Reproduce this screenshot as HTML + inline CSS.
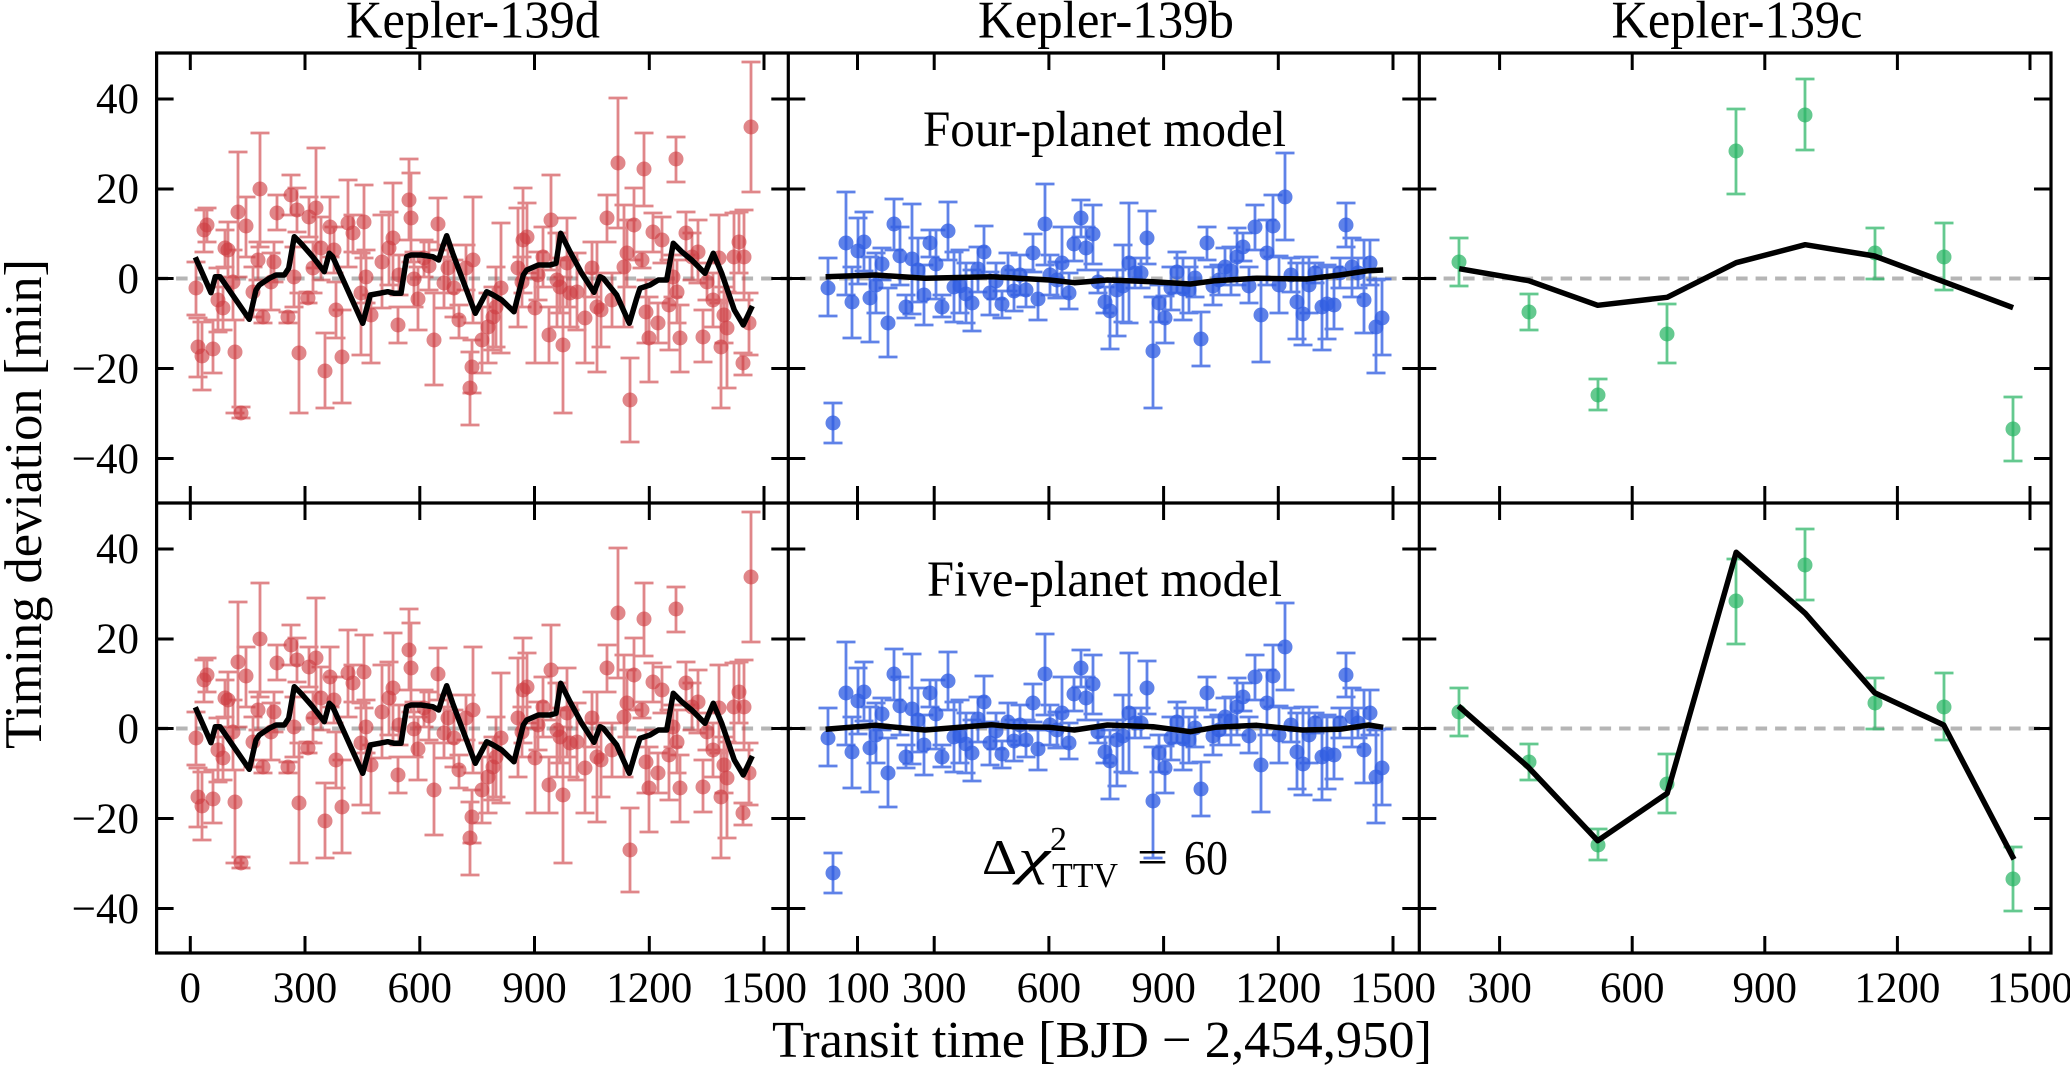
<!DOCTYPE html>
<html><head><meta charset="utf-8"><style>
html,body{margin:0;padding:0;background:#fff;overflow:hidden}
svg{display:block}
text{font-family:"Liberation Serif",serif;fill:#000}
.eb{fill:none;stroke-width:2.8}
</style></head><body>
<svg width="2070" height="1073" viewBox="0 0 2070 1073" xmlns="http://www.w3.org/2000/svg">
<rect x="0" y="0" width="2070" height="1073" fill="#fff"/>
<path d="M156.6 278.5H2051M156.6 728.5H2051" stroke="#b5b5b5" stroke-width="4" stroke-dasharray="11.5 8" fill="none"/>

<g id="Ld">
<path class="eb" stroke="rgb(205,60,65)" stroke-opacity="0.62" d="M196 262V315M186.5 262h19M186.5 315h19M198 318V377M188.5 318h19M188.5 377h19M202 322V390M192.5 322h19M192.5 390h19M204 210V252M194.5 210h19M194.5 252h19M207 208V242M197.5 208h19M197.5 242h19M213 320V373M203.5 320h19M203.5 373h19M218 268V332M208.5 268h19M208.5 332h19M223 287V330M213.5 287h19M213.5 330h19M225 230V267M215.5 230h19M215.5 267h19M228 222V277M218.5 222h19M218.5 277h19M233 250V320M223.5 250h19M223.5 320h19M235 320V413M225.5 320h19M225.5 413h19M238 152V277M228.5 152h19M228.5 277h19M241 407V418M231.5 407h19M231.5 418h19M246 197V257M236.5 197h19M236.5 257h19M253 267V317M243.5 267h19M243.5 317h19M258 242V280M248.5 242h19M248.5 280h19M260 133V247M250.5 133h19M250.5 247h19M263 310V323M253.5 310h19M253.5 323h19M271 253V310M261.5 253h19M261.5 310h19M274 242V282M264.5 242h19M264.5 282h19M277 195V230M267.5 195h19M267.5 230h19M288 312V323M278.5 312h19M278.5 323h19M291 175V215M281.5 175h19M281.5 215h19M294 247V307M284.5 247h19M284.5 307h19M297 188V232M287.5 188h19M287.5 232h19M299 293V413M289.5 293h19M289.5 413h19M308 292V303M298.5 292h19M298.5 303h19M309 197V237M299.5 197h19M299.5 237h19M313 242V293M303.5 242h19M303.5 293h19M316 148V268M306.5 148h19M306.5 268h19M321 217V280M311.5 217h19M311.5 280h19M325 333V408M315.5 333h19M315.5 408h19M330 197V257M320.5 197h19M320.5 257h19M334 227V273M324.5 227h19M324.5 273h19M336 282V338M326.5 282h19M326.5 338h19M342 310V403M332.5 310h19M332.5 403h19M348 180V267M338.5 180h19M338.5 267h19M353 215V252M343.5 215h19M343.5 252h19M361 253V355M351.5 253h19M351.5 355h19M364 185V258M354.5 185h19M354.5 258h19M366 250V303M356.5 250h19M356.5 303h19M371 295V363M361.5 295h19M361.5 363h19M382 215V308M372.5 215h19M372.5 308h19M389 212V285M379.5 212h19M379.5 285h19M393 183V293M383.5 183h19M383.5 293h19M398 307V343M388.5 307h19M388.5 343h19M399 255V295M389.5 255h19M389.5 295h19M409 159V240M399.5 159h19M399.5 240h19M411 173V262M401.5 173h19M401.5 262h19M414 252V307M404.5 252h19M404.5 307h19M418 267V330M408.5 267h19M408.5 330h19M424 240V277M414.5 240h19M414.5 277h19M429 242V290M419.5 242h19M419.5 290h19M434 293V385M424.5 293h19M424.5 385h19M438 198V250M428.5 198h19M428.5 250h19M444 257V308M434.5 257h19M434.5 308h19M448 245V293M438.5 245h19M438.5 293h19M454 260V317M444.5 260h19M444.5 317h19M459 305V338M449.5 305h19M449.5 338h19M466 245V290M456.5 245h19M456.5 290h19M472 340V393M462.5 340h19M462.5 393h19M470 352V425M460.5 352h19M460.5 425h19M473 197V323M463.5 197h19M463.5 323h19M482 307V373M472.5 307h19M472.5 373h19M488 293V363M478.5 293h19M478.5 363h19M493 287V350M483.5 287h19M483.5 350h19M496 267V347M486.5 267h19M486.5 347h19M501 223V353M491.5 223h19M491.5 353h19M518 208V327M508.5 208h19M508.5 327h19M522 257V307M512.5 257h19M512.5 307h19M523 188V293M513.5 188h19M513.5 293h19M527 203V273M517.5 203h19M517.5 273h19M535 278V363M525.5 278h19M525.5 363h19M538 252V300M528.5 252h19M528.5 300h19M543 227V287M533.5 227h19M533.5 287h19M549 307V363M539.5 307h19M539.5 363h19M551 175V270M541.5 175h19M541.5 270h19M557 233V327M547.5 233h19M547.5 327h19M560 258V313M550.5 258h19M550.5 313h19M563 277V413M553.5 277h19M553.5 413h19M567 218V307M557.5 218h19M557.5 307h19M570 260V327M560.5 260h19M560.5 327h19M577 253V330M567.5 253h19M567.5 330h19M585 273V363M575.5 273h19M575.5 363h19M592 242V297M582.5 242h19M582.5 297h19M597 242V372M587.5 242h19M587.5 372h19M601 273V347M591.5 273h19M591.5 347h19M607 195V242M597.5 195h19M597.5 242h19M612 273V327M602.5 273h19M602.5 327h19M618 98V228M608.5 98h19M608.5 228h19M624 205V327M614.5 205h19M614.5 327h19M627 220V287M617.5 220h19M617.5 287h19M630 358V442M620.5 358h19M620.5 442h19M634 188V260M624.5 188h19M624.5 260h19M642 252V268M632.5 252h19M632.5 268h19M644 133V206M634.5 133h19M634.5 206h19M646 280V343M636.5 280h19M636.5 343h19M649 297V382M639.5 297h19M639.5 382h19M653 213V252M643.5 213h19M643.5 252h19M658 303V343M648.5 303h19M648.5 343h19M662 217V263M652.5 217h19M652.5 263h19M669 260V350M659.5 260h19M659.5 350h19M673 255V297M663.5 255h19M663.5 297h19M676 137V182M666.5 137h19M666.5 182h19M677 260V323M667.5 260h19M667.5 323h19M680 305V372M670.5 305h19M670.5 372h19M686 212V255M676.5 212h19M676.5 255h19M692 233V280M682.5 233h19M682.5 280h19M698 220V283M688.5 220h19M688.5 283h19M703 310V362M693.5 310h19M693.5 362h19M707 263V300M697.5 263h19M697.5 300h19M713 273V327M703.5 273h19M703.5 327h19M719 215V303M709.5 215h19M709.5 303h19M721 300V408M711.5 300h19M711.5 408h19M724 287V343M714.5 287h19M714.5 343h19M727 292V388M717.5 292h19M717.5 388h19M734 213V293M724.5 213h19M724.5 293h19M739 212V273M729.5 212h19M729.5 273h19M743 353V375M733.5 353h19M733.5 375h19M744 210V300M734.5 210h19M734.5 300h19M749 293V355M739.5 293h19M739.5 355h19M751 62V192M741.5 62h19M741.5 192h19"/>
<g fill="rgb(205,60,65)" fill-opacity="0.62">
<circle cx="196" cy="288" r="7.5"/><circle cx="198" cy="347" r="7.5"/><circle cx="202" cy="356" r="7.5"/><circle cx="204" cy="230" r="7.5"/><circle cx="207" cy="225" r="7.5"/><circle cx="213" cy="349" r="7.5"/><circle cx="218" cy="300" r="7.5"/><circle cx="223" cy="308" r="7.5"/><circle cx="225" cy="248" r="7.5"/><circle cx="228" cy="250" r="7.5"/><circle cx="233" cy="282" r="7.5"/><circle cx="235" cy="352" r="7.5"/><circle cx="238" cy="212" r="7.5"/><circle cx="241" cy="413" r="7.5"/><circle cx="246" cy="226" r="7.5"/><circle cx="253" cy="292" r="7.5"/><circle cx="258" cy="260" r="7.5"/><circle cx="260" cy="189" r="7.5"/><circle cx="263" cy="317" r="7.5"/><circle cx="271" cy="282" r="7.5"/><circle cx="274" cy="262" r="7.5"/><circle cx="277" cy="213" r="7.5"/><circle cx="288" cy="317" r="7.5"/><circle cx="291" cy="195" r="7.5"/><circle cx="294" cy="277" r="7.5"/><circle cx="297" cy="210" r="7.5"/><circle cx="299" cy="353" r="7.5"/><circle cx="308" cy="298" r="7.5"/><circle cx="309" cy="217" r="7.5"/><circle cx="313" cy="268" r="7.5"/><circle cx="316" cy="208" r="7.5"/><circle cx="321" cy="248" r="7.5"/><circle cx="325" cy="371" r="7.5"/><circle cx="330" cy="227" r="7.5"/><circle cx="334" cy="250" r="7.5"/><circle cx="336" cy="310" r="7.5"/><circle cx="342" cy="357" r="7.5"/><circle cx="348" cy="223" r="7.5"/><circle cx="353" cy="233" r="7.5"/><circle cx="361" cy="293" r="7.5"/><circle cx="364" cy="222" r="7.5"/><circle cx="366" cy="277" r="7.5"/><circle cx="371" cy="315" r="7.5"/><circle cx="382" cy="262" r="7.5"/><circle cx="389" cy="248" r="7.5"/><circle cx="393" cy="238" r="7.5"/><circle cx="398" cy="325" r="7.5"/><circle cx="399" cy="275" r="7.5"/><circle cx="409" cy="200" r="7.5"/><circle cx="411" cy="218" r="7.5"/><circle cx="414" cy="279" r="7.5"/><circle cx="418" cy="299" r="7.5"/><circle cx="424" cy="258" r="7.5"/><circle cx="429" cy="266" r="7.5"/><circle cx="434" cy="340" r="7.5"/><circle cx="438" cy="224" r="7.5"/><circle cx="444" cy="283" r="7.5"/><circle cx="448" cy="268" r="7.5"/><circle cx="454" cy="288" r="7.5"/><circle cx="459" cy="320" r="7.5"/><circle cx="466" cy="268" r="7.5"/><circle cx="472" cy="367" r="7.5"/><circle cx="470" cy="388" r="7.5"/><circle cx="473" cy="260" r="7.5"/><circle cx="482" cy="340" r="7.5"/><circle cx="488" cy="327" r="7.5"/><circle cx="493" cy="317" r="7.5"/><circle cx="496" cy="307" r="7.5"/><circle cx="501" cy="288" r="7.5"/><circle cx="518" cy="268" r="7.5"/><circle cx="522" cy="282" r="7.5"/><circle cx="523" cy="240" r="7.5"/><circle cx="527" cy="237" r="7.5"/><circle cx="535" cy="308" r="7.5"/><circle cx="538" cy="275" r="7.5"/><circle cx="543" cy="257" r="7.5"/><circle cx="549" cy="335" r="7.5"/><circle cx="551" cy="220" r="7.5"/><circle cx="557" cy="280" r="7.5"/><circle cx="560" cy="287" r="7.5"/><circle cx="563" cy="345" r="7.5"/><circle cx="567" cy="263" r="7.5"/><circle cx="570" cy="293" r="7.5"/><circle cx="577" cy="292" r="7.5"/><circle cx="585" cy="318" r="7.5"/><circle cx="592" cy="268" r="7.5"/><circle cx="597" cy="307" r="7.5"/><circle cx="601" cy="310" r="7.5"/><circle cx="607" cy="218" r="7.5"/><circle cx="612" cy="300" r="7.5"/><circle cx="618" cy="163" r="7.5"/><circle cx="624" cy="267" r="7.5"/><circle cx="627" cy="253" r="7.5"/><circle cx="630" cy="400" r="7.5"/><circle cx="634" cy="225" r="7.5"/><circle cx="642" cy="260" r="7.5"/><circle cx="644" cy="169" r="7.5"/><circle cx="646" cy="312" r="7.5"/><circle cx="649" cy="338" r="7.5"/><circle cx="653" cy="232" r="7.5"/><circle cx="658" cy="323" r="7.5"/><circle cx="662" cy="240" r="7.5"/><circle cx="669" cy="305" r="7.5"/><circle cx="673" cy="277" r="7.5"/><circle cx="676" cy="159" r="7.5"/><circle cx="677" cy="292" r="7.5"/><circle cx="680" cy="338" r="7.5"/><circle cx="686" cy="233" r="7.5"/><circle cx="692" cy="257" r="7.5"/><circle cx="698" cy="252" r="7.5"/><circle cx="703" cy="337" r="7.5"/><circle cx="707" cy="282" r="7.5"/><circle cx="713" cy="300" r="7.5"/><circle cx="719" cy="258" r="7.5"/><circle cx="721" cy="347" r="7.5"/><circle cx="724" cy="315" r="7.5"/><circle cx="727" cy="328" r="7.5"/><circle cx="734" cy="257" r="7.5"/><circle cx="739" cy="242" r="7.5"/><circle cx="743" cy="363" r="7.5"/><circle cx="744" cy="257" r="7.5"/><circle cx="749" cy="323" r="7.5"/><circle cx="751" cy="127" r="7.5"/>
</g>
<polyline fill="none" stroke="#000" stroke-width="5.5" stroke-linejoin="round" points="195.3,257.3 211,292.7 215.3,276.7 220,276.7 249.3,319.3 256,290 259.3,285 269.3,278.3 276,275 284.3,275 288.7,268.3 294.3,236.7 301,243.3 312.7,256.7 324.3,271.7 329.3,253.3 332.7,256.7 362.7,323.3 370.3,295 379.3,293.3 387.7,291.7 394.3,293.3 401,293.3 406.7,256.7 411,255 421,255 432.7,256.7 438.7,260 442.7,246.7 446.7,235.7 452.7,253.3 475.3,313.3 486.7,291.7 493.3,295 501.7,300 514,311.7 523.3,275 526.7,270 538.3,265 550,265 556,263.3 560.7,233.3 570,251.7 581.7,273.3 594,292.3 600,276.7 603.3,278.3 616.7,295 629.3,323.3 636.7,298.3 640,288.3 650,285 658.3,280 666.7,280 673.3,243.3 681.7,251.7 691.7,260 705,273.3 713.3,253.3 721.7,273.3 734.3,310 743.3,325 752.3,306"/>
</g>
<use href="#Ld" x="0" y="450"/>

<g id="Mb">
<path class="eb" stroke="rgb(50,95,225)" stroke-opacity="0.78" d="M828 258V316M818.5 258h19M818.5 316h19M833 403V443M823.5 403h19M823.5 443h19M846 192V295M836.5 192h19M836.5 295h19M852 267V338M842.5 267h19M842.5 338h19M858 218V284M848.5 218h19M848.5 284h19M864 212V271M854.5 212h19M854.5 271h19M870 257V342M860.5 257h19M860.5 342h19M876 253V313M866.5 253h19M866.5 313h19M882 248V280M872.5 248h19M872.5 280h19M888 288V357M878.5 288h19M878.5 357h19M894 199V250M884.5 199h19M884.5 250h19M900 227V285M890.5 227h19M890.5 285h19M906 295V318M896.5 295h19M896.5 318h19M912 204V314M902.5 204h19M902.5 314h19M918 238V302M908.5 238h19M908.5 302h19M924 265V325M914.5 265h19M914.5 325h19M930 230V257M920.5 230h19M920.5 257h19M936 230V299M926.5 230h19M926.5 299h19M942 295V317M932.5 295h19M932.5 317h19M948 202V260M938.5 202h19M938.5 260h19M954 252V322M944.5 252h19M944.5 322h19M960 250V313M950.5 250h19M950.5 313h19M966 263V323M956.5 263h19M956.5 323h19M972 270V331M962.5 270h19M962.5 331h19M978 247V292M968.5 247h19M968.5 292h19M984 226V277M974.5 226h19M974.5 277h19M990 272V315M980.5 272h19M980.5 315h19M996 263V299M986.5 263h19M986.5 299h19M1002 291V318M992.5 291h19M992.5 318h19M1008 253V291M998.5 253h19M998.5 291h19M1014 270V311M1004.5 270h19M1004.5 311h19M1020 255V295M1010.5 255h19M1010.5 295h19M1026 270V307M1016.5 270h19M1016.5 307h19M1033 234V272M1023.5 234h19M1023.5 272h19M1038 280V320M1028.5 280h19M1028.5 320h19M1045 184V265M1035.5 184h19M1035.5 265h19M1050 255V295M1040.5 255h19M1040.5 295h19M1057 262V298M1047.5 262h19M1047.5 298h19M1062 227V297M1052.5 227h19M1052.5 297h19M1069 273V309M1059.5 273h19M1059.5 309h19M1074 227V261M1064.5 227h19M1064.5 261h19M1081 200V237M1071.5 200h19M1071.5 237h19M1086 227V270M1076.5 227h19M1076.5 270h19M1093 205V264M1083.5 205h19M1083.5 264h19M1098 270V293M1088.5 270h19M1088.5 293h19M1105 287V313M1095.5 287h19M1095.5 313h19M1110 280V349M1100.5 280h19M1100.5 349h19M1117 270V336M1107.5 270h19M1107.5 336h19M1123 245V322M1113.5 245h19M1113.5 322h19M1129 203V323M1119.5 203h19M1119.5 323h19M1135 258V288M1125.5 258h19M1125.5 288h19M1141 258V288M1131.5 258h19M1131.5 288h19M1147 211V264M1137.5 211h19M1137.5 264h19M1153 297V408M1143.5 297h19M1143.5 408h19M1159 285V322M1149.5 285h19M1149.5 322h19M1165 296V343M1155.5 296h19M1155.5 343h19M1171 267V310M1161.5 267h19M1161.5 310h19M1177 252V293M1167.5 252h19M1167.5 293h19M1183 258V320M1173.5 258h19M1173.5 320h19M1189 267V313M1179.5 267h19M1179.5 313h19M1195 258V297M1185.5 258h19M1185.5 297h19M1201 312V366M1191.5 312h19M1191.5 366h19M1207 227V260M1197.5 227h19M1197.5 260h19M1213 267V305M1203.5 267h19M1203.5 305h19M1219 265V295M1209.5 265h19M1209.5 295h19M1225 248V285M1215.5 248h19M1215.5 285h19M1231 247V295M1221.5 247h19M1221.5 295h19M1237 228V285M1227.5 228h19M1227.5 285h19M1243 233V261M1233.5 233h19M1233.5 261h19M1249 267V303M1239.5 267h19M1239.5 303h19M1255 205V250M1245.5 205h19M1245.5 250h19M1261 277V362M1251.5 277h19M1251.5 362h19M1267 220V285M1257.5 220h19M1257.5 285h19M1273 195V257M1263.5 195h19M1263.5 257h19M1279 256V313M1269.5 256h19M1269.5 313h19M1285 153V240M1275.5 153h19M1275.5 240h19M1291 258V292M1281.5 258h19M1281.5 292h19M1297 263V339M1287.5 263h19M1287.5 339h19M1303 257V345M1293.5 257h19M1293.5 345h19M1309 257V313M1299.5 257h19M1299.5 313h19M1315 263V283M1305.5 263h19M1305.5 283h19M1322 267V350M1312.5 267h19M1312.5 350h19M1327 265V339M1317.5 265h19M1317.5 339h19M1334 267V329M1324.5 267h19M1324.5 329h19M1340 258V288M1330.5 258h19M1330.5 288h19M1346 203V247M1336.5 203h19M1336.5 247h19M1352 238V297M1342.5 238h19M1342.5 297h19M1358 258V288M1348.5 258h19M1348.5 288h19M1364 240V333M1354.5 240h19M1354.5 333h19M1370 240V285M1360.5 240h19M1360.5 285h19M1376 280V373M1366.5 280h19M1366.5 373h19M1382 279V355M1372.5 279h19M1372.5 355h19"/>
<g fill="rgb(50,95,225)" fill-opacity="0.78">
<circle cx="828" cy="288" r="7.5"/><circle cx="833" cy="423" r="7.5"/><circle cx="846" cy="243" r="7.5"/><circle cx="852" cy="302" r="7.5"/><circle cx="858" cy="251" r="7.5"/><circle cx="864" cy="242" r="7.5"/><circle cx="870" cy="298" r="7.5"/><circle cx="876" cy="285" r="7.5"/><circle cx="882" cy="264" r="7.5"/><circle cx="888" cy="323" r="7.5"/><circle cx="894" cy="224" r="7.5"/><circle cx="900" cy="256" r="7.5"/><circle cx="906" cy="307" r="7.5"/><circle cx="912" cy="259" r="7.5"/><circle cx="918" cy="270" r="7.5"/><circle cx="924" cy="295" r="7.5"/><circle cx="930" cy="243" r="7.5"/><circle cx="936" cy="264" r="7.5"/><circle cx="942" cy="307" r="7.5"/><circle cx="948" cy="231" r="7.5"/><circle cx="954" cy="287" r="7.5"/><circle cx="960" cy="286" r="7.5"/><circle cx="966" cy="294" r="7.5"/><circle cx="972" cy="303" r="7.5"/><circle cx="978" cy="269" r="7.5"/><circle cx="984" cy="252" r="7.5"/><circle cx="990" cy="293" r="7.5"/><circle cx="996" cy="281" r="7.5"/><circle cx="1002" cy="304" r="7.5"/><circle cx="1008" cy="272" r="7.5"/><circle cx="1014" cy="291" r="7.5"/><circle cx="1020" cy="275" r="7.5"/><circle cx="1026" cy="290" r="7.5"/><circle cx="1033" cy="253" r="7.5"/><circle cx="1038" cy="299" r="7.5"/><circle cx="1045" cy="224" r="7.5"/><circle cx="1050" cy="275" r="7.5"/><circle cx="1057" cy="280" r="7.5"/><circle cx="1062" cy="263" r="7.5"/><circle cx="1069" cy="293" r="7.5"/><circle cx="1074" cy="244" r="7.5"/><circle cx="1081" cy="218" r="7.5"/><circle cx="1086" cy="248" r="7.5"/><circle cx="1093" cy="234" r="7.5"/><circle cx="1098" cy="282" r="7.5"/><circle cx="1105" cy="302" r="7.5"/><circle cx="1110" cy="311" r="7.5"/><circle cx="1117" cy="290" r="7.5"/><circle cx="1123" cy="286" r="7.5"/><circle cx="1129" cy="263" r="7.5"/><circle cx="1135" cy="273" r="7.5"/><circle cx="1141" cy="273" r="7.5"/><circle cx="1147" cy="238" r="7.5"/><circle cx="1153" cy="351" r="7.5"/><circle cx="1159" cy="303" r="7.5"/><circle cx="1165" cy="318" r="7.5"/><circle cx="1171" cy="288" r="7.5"/><circle cx="1177" cy="272" r="7.5"/><circle cx="1183" cy="289" r="7.5"/><circle cx="1189" cy="290" r="7.5"/><circle cx="1195" cy="278" r="7.5"/><circle cx="1201" cy="339" r="7.5"/><circle cx="1207" cy="243" r="7.5"/><circle cx="1213" cy="286" r="7.5"/><circle cx="1219" cy="280" r="7.5"/><circle cx="1225" cy="267" r="7.5"/><circle cx="1231" cy="271" r="7.5"/><circle cx="1237" cy="257" r="7.5"/><circle cx="1243" cy="247" r="7.5"/><circle cx="1249" cy="286" r="7.5"/><circle cx="1255" cy="227" r="7.5"/><circle cx="1261" cy="315" r="7.5"/><circle cx="1267" cy="253" r="7.5"/><circle cx="1273" cy="226" r="7.5"/><circle cx="1279" cy="285" r="7.5"/><circle cx="1285" cy="197" r="7.5"/><circle cx="1291" cy="275" r="7.5"/><circle cx="1297" cy="302" r="7.5"/><circle cx="1303" cy="314" r="7.5"/><circle cx="1309" cy="285" r="7.5"/><circle cx="1315" cy="273" r="7.5"/><circle cx="1322" cy="307" r="7.5"/><circle cx="1327" cy="304" r="7.5"/><circle cx="1334" cy="305" r="7.5"/><circle cx="1340" cy="273" r="7.5"/><circle cx="1346" cy="225" r="7.5"/><circle cx="1352" cy="267" r="7.5"/><circle cx="1358" cy="273" r="7.5"/><circle cx="1364" cy="300" r="7.5"/><circle cx="1370" cy="263" r="7.5"/><circle cx="1376" cy="327" r="7.5"/><circle cx="1382" cy="318" r="7.5"/>
</g>
</g>
<use href="#Mb" x="0" y="450"/>
<polyline fill="none" stroke="#000" stroke-width="5.5" stroke-linejoin="round" points="825.6,276.7 875.4,275 925.1,278.3 991.4,276.7 1049.5,280 1074.4,282.7 1107.5,280 1153.1,281.7 1190.4,284 1215.3,280.7 1256.8,278.3 1306.5,279 1339.7,275 1368.7,270.7 1383.2,270"/>
<polyline fill="none" stroke="#000" stroke-width="5.5" stroke-linejoin="round" points="825.6,729.3 875.4,725.3 925.1,730 991.4,724.7 1012.2,726.7 1049.5,727.3 1074.4,730 1107.5,725 1153.1,726.7 1190.4,731.7 1215.3,727.3 1256.8,725.3 1302.4,730 1339.7,729.3 1368.7,725 1383.2,727.3"/>

<g id="Rc">
<path class="eb" stroke="rgb(40,180,100)" stroke-opacity="0.72" d="M1459 238V286M1449.5 238h19M1449.5 286h19M1529 294V330M1519.5 294h19M1519.5 330h19M1598 379V410M1588.5 379h19M1588.5 410h19M1667 304V363M1657.5 304h19M1657.5 363h19M1736 109V194M1726.5 109h19M1726.5 194h19M1805 79V150M1795.5 79h19M1795.5 150h19M1875 228V279M1865.5 228h19M1865.5 279h19M1944 223V290M1934.5 223h19M1934.5 290h19M2013 397V461M2003.5 397h19M2003.5 461h19"/>
<g fill="rgb(40,180,100)" fill-opacity="0.72">
<circle cx="1459" cy="262" r="7.5"/><circle cx="1529" cy="312" r="7.5"/><circle cx="1598" cy="395" r="7.5"/><circle cx="1667" cy="334" r="7.5"/><circle cx="1736" cy="151" r="7.5"/><circle cx="1805" cy="115" r="7.5"/><circle cx="1875" cy="253" r="7.5"/><circle cx="1944" cy="257" r="7.5"/><circle cx="2013" cy="429" r="7.5"/>
</g>
</g>
<use href="#Rc" x="0" y="450"/>
<polyline fill="none" stroke="#000" stroke-width="5.5" stroke-linejoin="round" points="1459.2,268.7 1528.7,280.7 1597.7,305.3 1667.2,297.3 1736.2,262.7 1805.2,244.7 1874.6,256 1943.7,281.7 2013.1,307.7"/>
<polyline fill="none" stroke="#000" stroke-width="5.5" stroke-linejoin="round" points="1458.4,706 1527.8,766.7 1597.7,840.7 1667.2,793.3 1736.2,552.3 1805.2,613.3 1874.6,692.7 1943.7,725 2014,859.3"/>

<!-- spines -->
<path fill="none" stroke="#000" stroke-width="3.2" d="M156.6 53H2051V953H156.6ZM156.6 503H2051M788.3 53V953M1419.3 53V953"/>
<!-- x ticks -->
<path fill="none" stroke="#000" stroke-width="3" d="M190.3 53v17M190.3 486v34M190.3 936v17M305 53v17M305 486v34M305 936v17M419.8 53v17M419.8 486v34M419.8 936v17M534.5 53v17M534.5 486v34M534.5 936v17M649.3 53v17M649.3 486v34M649.3 936v17M764 53v17M764 486v34M764 936v17M857.5 53v17M857.5 486v34M857.5 936v17M934.2 53v17M934.2 486v34M934.2 936v17M1048.9 53v17M1048.9 486v34M1048.9 936v17M1163.6 53v17M1163.6 486v34M1163.6 936v17M1278.3 53v17M1278.3 486v34M1278.3 936v17M1393 53v17M1393 486v34M1393 936v17M1499.6 53v17M1499.6 486v34M1499.6 936v17M1632.2 53v17M1632.2 486v34M1632.2 936v17M1764.8 53v17M1764.8 486v34M1764.8 936v17M1897.4 53v17M1897.4 486v34M1897.4 936v17M2030 53v17M2030 486v34M2030 936v17"/>
<!-- y ticks -->
<path fill="none" stroke="#000" stroke-width="3" d="M156.6 99h17M771.3 99h34M1402.3 99h34M2034 99h17M156.6 189h17M771.3 189h34M1402.3 189h34M2034 189h17M156.6 278.5h17M771.3 278.5h34M1402.3 278.5h34M2034 278.5h17M156.6 368.5h17M771.3 368.5h34M1402.3 368.5h34M2034 368.5h17M156.6 458.5h17M771.3 458.5h34M1402.3 458.5h34M2034 458.5h17M156.6 549h17M771.3 549h34M1402.3 549h34M2034 549h17M156.6 639h17M771.3 639h34M1402.3 639h34M2034 639h17M156.6 728.5h17M771.3 728.5h34M1402.3 728.5h34M2034 728.5h17M156.6 818.5h17M771.3 818.5h34M1402.3 818.5h34M2034 818.5h17M156.6 908.5h17M771.3 908.5h34M1402.3 908.5h34M2034 908.5h17"/>

<!-- titles -->
<text x="473" y="37.5" font-size="53" text-anchor="middle" textLength="254" lengthAdjust="spacingAndGlyphs">Kepler-139d</text>
<text x="1106" y="37.5" font-size="53" text-anchor="middle" textLength="256" lengthAdjust="spacingAndGlyphs">Kepler-139b</text>
<text x="1737" y="37.5" font-size="53" text-anchor="middle" textLength="251" lengthAdjust="spacingAndGlyphs">Kepler-139c</text>

<!-- y tick labels -->
<g font-size="43" text-anchor="end">
<text x="139" y="113">40</text><text x="139" y="203">20</text><text x="139" y="293">0</text><text x="139" y="383">−20</text><text x="139" y="473">−40</text>
<text x="139" y="563">40</text><text x="139" y="653">20</text><text x="139" y="743">0</text><text x="139" y="833">−20</text><text x="139" y="923">−40</text>
</g>
<!-- x tick labels -->
<g font-size="43" text-anchor="middle">
<text x="190.3" y="1002">0</text><text x="305" y="1002">300</text><text x="419.8" y="1002">600</text><text x="534.5" y="1002">900</text><text x="649.3" y="1002">1200</text><text x="764" y="1002">1500</text>
<text x="857.5" y="1002">100</text><text x="934.2" y="1002">300</text><text x="1048.9" y="1002">600</text><text x="1163.6" y="1002">900</text><text x="1278.3" y="1002">1200</text><text x="1393" y="1002">1500</text>
<text x="1499.6" y="1002">300</text><text x="1632.2" y="1002">600</text><text x="1764.8" y="1002">900</text><text x="1897.4" y="1002">1200</text><text x="2030" y="1002">1500</text>
</g>

<!-- annotations -->
<text x="923" y="146" font-size="51" textLength="363" lengthAdjust="spacingAndGlyphs">Four-planet model</text>
<text x="927" y="596" font-size="51" textLength="355" lengthAdjust="spacingAndGlyphs">Five-planet model</text>
<text x="982" y="874" font-size="50" textLength="35" lengthAdjust="spacingAndGlyphs">Δ</text>
<text x="1018" y="874" font-size="50" font-style="italic" textLength="32" lengthAdjust="spacingAndGlyphs">χ</text>
<text x="1050" y="850" font-size="34">2</text>
<text x="1052" y="887" font-size="35" textLength="66" lengthAdjust="spacingAndGlyphs">TTV</text>
<text x="1137" y="874" font-size="50" textLength="31" lengthAdjust="spacingAndGlyphs">=</text>
<text x="1184" y="874" font-size="49" textLength="44" lengthAdjust="spacingAndGlyphs">60</text>

<!-- axis labels -->
<text x="1102" y="1057" font-size="52" text-anchor="middle" textLength="660" lengthAdjust="spacingAndGlyphs">Transit time [BJD − 2,454,950]</text>
<text transform="translate(41,504) rotate(-90)" font-size="53" text-anchor="middle" textLength="490" lengthAdjust="spacingAndGlyphs">Timing deviation [min]</text>
</svg>
</body></html>
